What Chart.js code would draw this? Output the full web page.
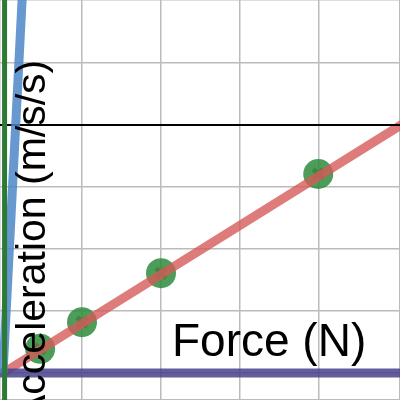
<!DOCTYPE html>
<html><head><meta charset="utf-8">
<script src="https://cdn.jsdelivr.net/npm/chart.js@4"></script>
<style>html,body{margin:0;padding:0;background:#fff}#wrap{width:400px;height:400px}</style>
</head><body><div id="wrap"><canvas id="c"></canvas></div>
<script>
// measured points (force, acceleration)
const forceVals = [0.47, 1.0, 2.0, 3.99];
const accelVals = [0.39, 0.82, 1.61, 3.21];
// fit lines
const fitX = [0, 5.1];
const fitY = [0, 4.05];
const steepX = [0, 0.245];
const steepY = [0, 6.1];
const xTitle = 'Force (N)';
const yTitle = 'Acceleration (m/s/s)';

const pts = forceVals.map((x, i) => ({x: x, y: accelVals[i]}));

const titles = {
  id: 'titles',
  afterDatasetsDraw(chart) {
    const c = chart.ctx;
    c.save();
    c.fillStyle = '#000';
    c.font = '46px "Liberation Sans", Arial, sans-serif';
    c.textBaseline = 'alphabetic';
    c.fillText(xTitle, 172, 356);
    c.translate(45, 422);
    c.rotate(-Math.PI / 2);
    c.font = '41px "Liberation Sans", Arial, sans-serif';
    c.fillText(yTitle, 0, 0);
    c.restore();
  }
};

new Chart(document.getElementById('c'), {
  type: 'scatter',
  data: {
    datasets: [
      { data: [{x: 0.02, y: -1}, {x: 0.02, y: 7}], showLine: true, borderColor: '#2d7a35', borderWidth: 5, pointRadius: 0 },
      { data: steepX.map((x, i) => ({x: x, y: steepY[i]})), showLine: true, borderColor: 'rgba(76,134,200,0.85)', borderWidth: 9, pointRadius: 0 },
      { data: [{x: -1, y: 4}, {x: 6, y: 4}], showLine: true, borderColor: '#000', borderWidth: 2, pointRadius: 0 },
      { data: [{x: -1, y: 0}, {x: 6, y: 0}], showLine: true, borderColor: 'rgba(70,65,140,0.85)', borderWidth: 9, pointRadius: 0 },
      { data: fitX.map((x, i) => ({x: x, y: fitY[i]})), showLine: true, borderColor: 'rgba(214,90,90,0.8)', borderWidth: 9, pointRadius: 0 },
      { data: pts, backgroundColor: 'rgba(45,140,60,0.85)', borderWidth: 0, pointRadius: 15 },
      { data: pts, pointStyle: 'crossRot', borderColor: 'rgba(200,60,60,0.85)', borderWidth: 5, pointRadius: 7 }
    ]
  },
  options: {
    responsive: true,
    maintainAspectRatio: false,
    animation: false,
    layout: { padding: 0, autoPadding: false },
    plugins: { legend: { display: false }, tooltip: { enabled: false } },
    scales: {
      x: {
        min: -0.038, max: 5.025,
        ticks: { display: false, stepSize: 1 },
        border: { display: false },
        grid: { color: '#bbb', lineWidth: 1.5, drawTicks: false }
      },
      y: {
        min: -0.435, max: 6.016,
        ticks: { display: false, stepSize: 1 },
        border: { display: false },
        grid: { color: '#bbb', lineWidth: 1.5, drawTicks: false }
      }
    }
  },
  plugins: [titles]
});
</script></body></html>
